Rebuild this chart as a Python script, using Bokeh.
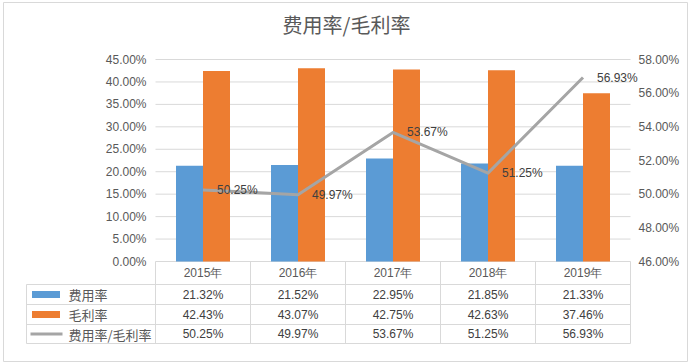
from bokeh.plotting import figure
from bokeh.models import (Range1d, LinearAxis, FixedTicker, NumeralTickFormatter)
from bokeh.embed import file_html
from bokeh.resources import INLINE
from bokeh.core.properties import value

# ---------------- data ----------------
title = "费用率/毛利率"
years = ["2015年", "2016年", "2017年", "2018年", "2019年"]
series_names = ["费用率", "毛利率", "费用率/毛利率"]
expense_rate = [21.32, 21.52, 22.95, 21.85, 21.33]   # %
gross_margin = [42.43, 43.07, 42.75, 42.63, 37.46]   # %
ratio = [50.25, 49.97, 53.67, 51.25, 56.93]          # %
left_ticks = [0, 5, 10, 15, 20, 25, 30, 35, 40, 45]   # %
right_ticks = [46, 48, 50, 52, 54, 56, 58]            # %

# ---------------- styles / layout (pixels) ----------------
BLUE = "#5B9BD5"
ORANGE = "#ED7D31"
GRAY = "#A5A5A5"
GRID = "#D9D9D9"
TXT = "#595959"
TXT2 = "#404040"
NUM_FONT = "Liberation Sans"
CJK_FONT = "Noto Sans CJK SC"

W, H = 690, 364
CAT = 95              # px per category
PLOT_L = 155          # px where the plot area starts (x = -0.5)
ZERO_Y = 261          # px of 0% / 46%
TOP_Y = 59            # px of 45% / 58%
HEAD_Y = 272          # px centre of header row
ROW_LINES = [284, 304, 324, 343]   # px of table row lines
LEG_PX = 26           # px of legend column left border
TITLE_XY = (346, 24)
BORDER = (3, 2, 687, 361)          # outer chart border (l, t, r, b) px

n = len(years)
idx = list(range(n))
ppl = (ZERO_Y - TOP_Y) / (left_ticks[-1] / 100)
ppr = (ZERO_Y - TOP_Y) / ((right_ticks[-1] - right_ticks[0]) / 100)

x_start = -0.5 - PLOT_L / CAT
x_end = x_start + W / CAT


def xpx(px):
    return x_start + px / CAT


def ypx(px):
    return (ZERO_Y - px) / ppl


p = figure(width=W, height=H, output_backend="svg", toolbar_location=None,
           x_range=Range1d(x_start, x_end),
           y_range=Range1d(ypx(H), ypx(0)),
           min_border=0, min_border_left=0, min_border_right=0,
           min_border_top=0, min_border_bottom=0,
           x_axis_location=None)
p.outline_line_color = None
p.background_fill_color = "white"
p.border_fill_color = "white"
p.grid.visible = False

ly = p.yaxis[0]
ly.ticker = FixedTicker(ticks=[t / 100 for t in left_ticks])
ly.formatter = NumeralTickFormatter(format="0.00%")
ly.fixed_location = -0.5

r0 = right_ticks[0] / 100
p.extra_y_ranges = {"right": Range1d(r0 - (H - ZERO_Y) / ppr, r0 + ZERO_Y / ppr)}
ry = LinearAxis(y_range_name="right",
                ticker=FixedTicker(ticks=[t / 100 for t in right_ticks]),
                formatter=NumeralTickFormatter(format="0.00%"),
                fixed_location=n - 0.5)
p.add_layout(ry, "right")

for ax, so in ((ly, 9), (ry, 8)):
    ax.axis_line_color = None
    ax.major_tick_line_color = None
    ax.minor_tick_line_color = None
    ax.major_tick_out = 0
    ax.minor_tick_out = 0
    ax.major_tick_in = 0
    ax.minor_tick_in = 0
    ax.major_label_standoff = so
    ax.major_label_text_font = NUM_FONT
    ax.major_label_text_font_size = "12px"
    ax.major_label_text_color = TXT

# outer border
p.rect(x=[(xpx(BORDER[0]) + xpx(BORDER[2])) / 2], y=[(ypx(BORDER[1]) + ypx(BORDER[3])) / 2],
       width=[xpx(BORDER[2]) - xpx(BORDER[0])], height=[ypx(BORDER[1]) - ypx(BORDER[3])],
       fill_color=None, line_color=GRID, line_width=1)

# horizontal gridlines (left-axis ticks) over the plot area only
gy = [t / 100 for t in left_ticks]
p.segment(x0=[-0.5] * len(gy), y0=gy, x1=[n - 0.5] * len(gy), y1=gy,
          line_color=GRID, line_width=1)

# ---------------- chart ----------------
BW = 27 / CAT
p.vbar(x=[i - BW / 2 for i in idx], top=[v / 100 for v in expense_rate], width=BW,
       fill_color=BLUE, line_color=None)
p.vbar(x=[i + BW / 2 for i in idx], top=[v / 100 for v in gross_margin], width=BW,
       fill_color=ORANGE, line_color=None)
p.line(x=idx, y=[v / 100 for v in ratio], y_range_name="right",
       line_color=GRAY, line_width=3, line_join="round")
p.text(x=idx, y=[v / 100 for v in ratio], text=[f"{v:.2f}%" for v in ratio],
       y_range_name="right", x_offset=14, text_align="left", text_baseline="middle",
       text_font=value(NUM_FONT), text_font_size="12px", text_color=TXT2)

# title
p.text(x=[xpx(TITLE_XY[0])], y=[ypx(TITLE_XY[1])], text=[title],
       text_align="center", text_baseline="middle",
       text_font=value(CJK_FONT), text_font_size="20px", text_color=TXT)

# ---------------- data table ----------------
bounds = [i - 0.5 for i in range(n + 1)]
LEG_L = xpx(LEG_PX)
y_rows = [ypx(v) for v in ROW_LINES]

# vertical lines of category columns (header + rows)
p.segment(x0=bounds, y0=[0] * len(bounds), x1=bounds,
          y1=[y_rows[-1]] * len(bounds), line_color=GRID, line_width=1)
# legend column left border
p.segment(x0=[LEG_L], y0=[y_rows[0]], x1=[LEG_L], y1=[y_rows[-1]],
          line_color=GRID, line_width=1)
# horizontal row lines
p.segment(x0=[LEG_L] * len(y_rows), y0=y_rows, x1=[bounds[-1]] * len(y_rows), y1=y_rows,
          line_color=GRID, line_width=1)

# header texts
p.text(x=idx, y=[ypx(HEAD_Y)] * n, text=years,
       text_align="center", text_baseline="middle",
       text_font=value(NUM_FONT), text_font_size="12px", text_color=TXT)

row_c = [(y_rows[k] + y_rows[k + 1]) / 2 for k in range(len(series_names))]

# legend keys
p.rect(x=[xpx(LEG_PX + 19.5)] * 2, y=row_c[:2], width=28, height=7,
       width_units="screen", height_units="screen",
       fill_color=[BLUE, ORANGE], line_color=None)
p.segment(x0=[xpx(LEG_PX + 4)], y0=[row_c[2]], x1=[xpx(LEG_PX + 36)], y1=[row_c[2]],
          line_color=GRAY, line_width=3)
p.text(x=[xpx(LEG_PX + 42)] * len(series_names), y=row_c, text=series_names,
       text_align="left", text_baseline="middle",
       text_font=value(CJK_FONT), text_font_size="13px", text_color=TXT)

cells_x, cells_y, cells_t = [], [], []
for r, vals in enumerate([expense_rate, gross_margin, ratio]):
    for i, v in enumerate(vals):
        cells_x.append(i)
        cells_y.append(row_c[r])
        cells_t.append(f"{v:.2f}%")
p.text(x=cells_x, y=cells_y, text=cells_t, text_align="center", text_baseline="middle",
       text_font=value(NUM_FONT), text_font_size="12px", text_color=TXT2)

open("out.html", "w").write(file_html(p, INLINE))
